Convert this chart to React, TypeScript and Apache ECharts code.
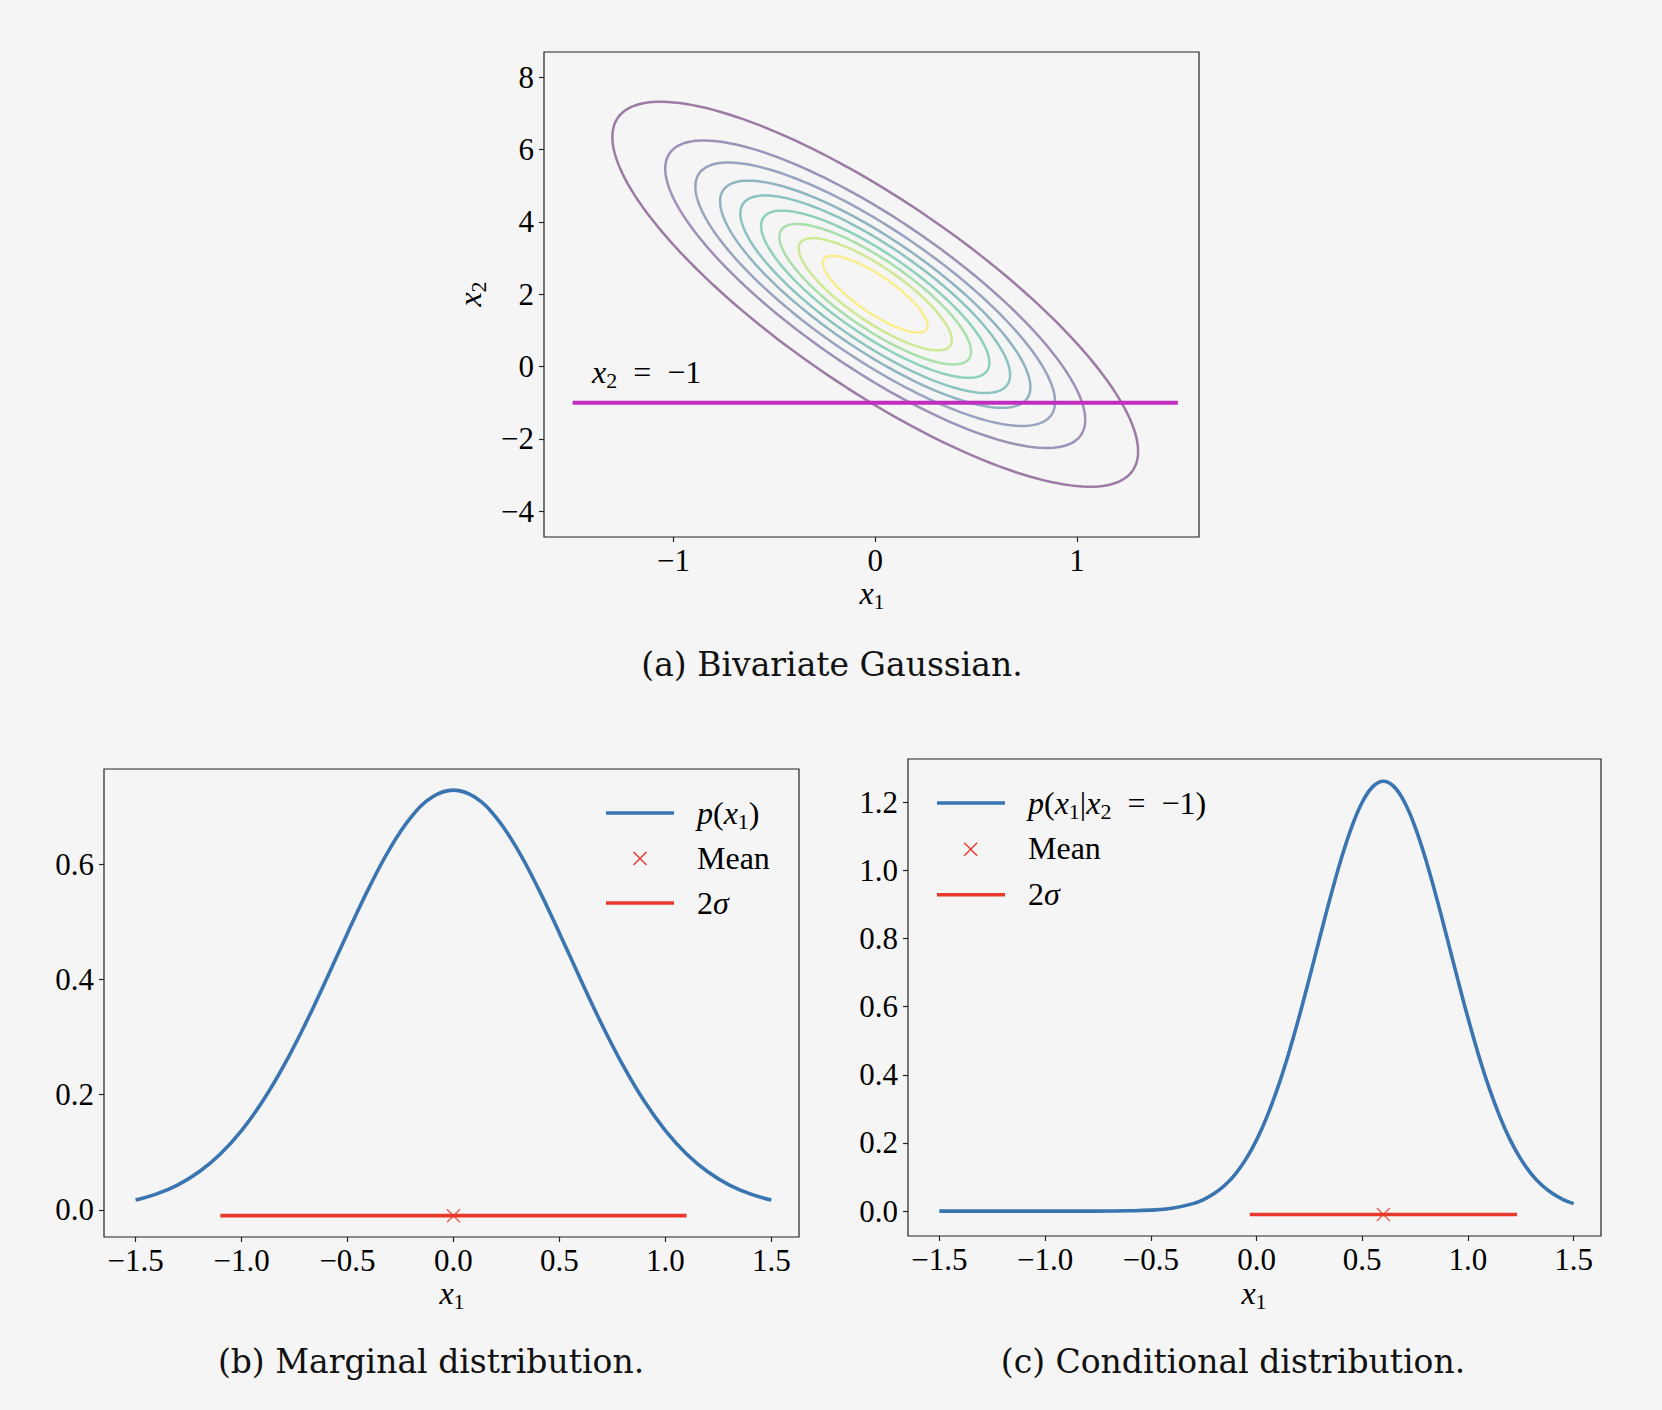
import React, { useEffect, useRef } from 'react';
import * as echarts from 'echarts';

// ---------- (a) Bivariate Gaussian ----------
const gaussMean = [0, 2];
const gaussCov = [
  [0.3, -1.0],
  [-1.0, 5.0],
];
// top (max x2) of each contour
const contourTopX2 = [7.32, 6.25, 5.64, 5.14, 4.73, 4.31, 3.94, 3.55, 3.06];
const contourColors = ['#440154', '#472c7a', '#3b528b', '#2c728e', '#21918c', '#27ad81', '#5ec962', '#aadc32', '#fde725'];
const sliceX2 = -1;
const sliceFrom = -1.5;
const sliceTo = 1.5;
const aXTicks = [-1, 0, 1];
const aYTicks = [-4, -2, 0, 2, 4, 6, 8];

// ---------- (b) Marginal ----------
const margX = [-1.5, -1.4, -1.3, -1.2, -1.1, -1.0, -0.9, -0.8, -0.7, -0.6, -0.5, -0.4, -0.3, -0.2, -0.1, 0.0,
  0.1, 0.2, 0.3, 0.4, 0.5, 0.6, 0.7, 0.8, 0.9, 1.0, 1.1, 1.2, 1.3, 1.4, 1.5];
const margY = [0.0171, 0.0278, 0.0435, 0.0661, 0.097, 0.1376, 0.1888, 0.2507, 0.3219, 0.3998, 0.4802, 0.5579, 0.6269, 0.6814, 0.7164, 0.7284,
  0.7164, 0.6814, 0.6269, 0.5579, 0.4802, 0.3998, 0.3219, 0.2507, 0.1888, 0.1376, 0.097, 0.0661, 0.0435, 0.0278, 0.0171];
const margMean = 0.0;
const margSigmaSpan = [-1.1, 1.1];
const bXTicks = [-1.5, -1.0, -0.5, 0.0, 0.5, 1.0, 1.5];
const bYTicks = [0.0, 0.2, 0.4, 0.6];

// ---------- (c) Conditional ----------
const condX = [-1.5, -1.4, -1.3, -1.2, -1.1, -1.0, -0.9, -0.8, -0.7, -0.6, -0.5, -0.4, -0.3, -0.25, -0.2, -0.15, -0.1, -0.05,
  0.0, 0.05, 0.1, 0.15, 0.2, 0.25, 0.3, 0.35, 0.4, 0.45, 0.5, 0.55, 0.6, 0.65, 0.7, 0.75, 0.8, 0.85, 0.9, 0.95,
  1.0, 1.05, 1.1, 1.15, 1.2, 1.25, 1.3, 1.35, 1.4, 1.45, 1.5];
const condY = [0, 0, 0, 0, 0, 0, 0.00002, 0.00007, 0.00027, 0.00094, 0.003, 0.0085, 0.022, 0.034, 0.0514, 0.0758, 0.1089, 0.1525,
  0.2085, 0.2781, 0.3615, 0.4584, 0.5669, 0.6838, 0.8044, 0.923, 1.0329, 1.1274, 1.2001, 1.2459, 1.2616, 1.2459, 1.2001, 1.1274, 1.0329, 0.923, 0.8044, 0.6838,
  0.5669, 0.4584, 0.3615, 0.2781, 0.2085, 0.1525, 0.1089, 0.0758, 0.0514, 0.034, 0.022];
const condMean = 0.6;
const condSigmaSpan = [-0.032, 1.232];
const cXTicks = [-1.5, -1.0, -0.5, 0.0, 0.5, 1.0, 1.5];
const cYTicks = [0.0, 0.2, 0.4, 0.6, 0.8, 1.0, 1.2];
const markerY = -0.01;

const BG = '#f5f5f5';
const BLUE = '#3a74b1';
const RED = '#e8392c';
const MAGENTA = '#c02ec0';
const AXIS = '#222';
const TICK_FONT = 'Liberation Serif';
const CAP_FONT = 'DejaVu Serif';

function ellipsePoints(topX2: number) {
  const l11 = Math.sqrt(gaussCov[0][0]);
  const l21 = gaussCov[1][0] / l11;
  const l22 = Math.sqrt(gaussCov[1][1] - l21 * l21);
  const r = (topX2 - gaussMean[1]) / Math.sqrt(gaussCov[1][1]);
  const pts: number[][] = [];
  const n = 180;
  for (let k = 0; k <= n; k++) {
    const t = (2 * Math.PI * k) / n;
    pts.push([gaussMean[0] + r * l11 * Math.cos(t), gaussMean[1] + r * (l21 * Math.cos(t) + l22 * Math.sin(t))]);
  }
  return pts;
}

const zip = (xs: number[], ys: number[]) => xs.map((x, i) => [x, ys[i]]);
const fmt = (d: number) => (v: number) => (v < 0 ? '\u2212' : '') + Math.abs(v).toFixed(d);

const mathRich = {
  i: { fontFamily: TICK_FONT, fontStyle: 'italic', fontSize: 32, lineHeight: 26, color: '#000' },
  r: { fontFamily: TICK_FONT, fontSize: 32, lineHeight: 26, color: '#000' },
  s: { fontFamily: TICK_FONT, fontSize: 22, lineHeight: 10, color: '#000', padding: [17, 0, 0, 0] },
};

function axisPair(gridIndex: number, xr: number[], yr: number[], xt: number[], yt: number[], xd: number, yd: number) {
  const common = {
    type: 'value',
    gridIndex,
    axisLine: { show: false, onZero: false },
    splitLine: { show: false },
  };
  const tickStyle = { color: AXIS, width: 1.2 };
  const labelStyle = { fontFamily: TICK_FONT, fontSize: 31, lineHeight: 26, color: '#000' };
  return {
    x: {
      ...common,
      min: xr[0],
      max: xr[1],
      axisTick: { show: true, inside: false, length: 5, customValues: xt, lineStyle: tickStyle },
      axisLabel: { ...labelStyle, customValues: xt, formatter: fmt(xd), margin: 10 },
    },
    y: {
      ...common,
      min: yr[0],
      max: yr[1],
      axisTick: { show: true, inside: false, length: 5, customValues: yt, lineStyle: tickStyle },
      axisLabel: { ...labelStyle, customValues: yt, formatter: fmt(yd), margin: 10 },
    },
  };
}

function mathText(x: number, y: number, text: string, align = 'center', rotation = 0) {
  return {
    type: 'text',
    x,
    y,
    rotation,
    style: { text, rich: mathRich, align, verticalAlign: 'middle' },
  };
}

function capText(x: number, y: number, text: string) {
  return {
    type: 'text',
    x,
    y,
    style: { text, fontFamily: CAP_FONT, fontSize: 33, fill: '#111', align: 'center', verticalAlign: 'middle' },
  };
}

function legendLine(x1: number, x2: number, y: number, color: string) {
  return { type: 'line', shape: { x1, y1: y, x2, y2: y }, style: { stroke: color, lineWidth: 3.5 } };
}

function legendCross(cx: number, cy: number) {
  const h = 6.5;
  return [
    { type: 'line', shape: { x1: cx - h, y1: cy - h, x2: cx + h, y2: cy + h }, style: { stroke: RED, lineWidth: 1.4 } },
    { type: 'line', shape: { x1: cx - h, y1: cy + h, x2: cx + h, y2: cy - h }, style: { stroke: RED, lineWidth: 1.4 } },
  ];
}

const CROSS = 'path://M0 0L10 10M10 0L0 10';

export default function App() {
  const ref = useRef<HTMLDivElement>(null);
  useEffect(() => {
    if (!ref.current) return;
    const chart = echarts.init(ref.current, undefined, { renderer: 'svg' });
    const a = axisPair(0, [-1.642, 1.605], [-4.71, 8.695], aXTicks, aYTicks, 0, 0);
    const b = axisPair(1, [-1.649, 1.6305], [-0.047, 0.765], bXTicks, bYTicks, 1, 1);
    const c = axisPair(2, [-1.648, 1.629], [-0.073, 1.327], cXTicks, cYTicks, 1, 1);
    const gridStyle = { show: true, borderColor: AXIS, borderWidth: 1.2, backgroundColor: 'transparent' };

    const contourSeries = contourTopX2.map((top, k) => ({
      type: 'line',
      name: 'contour ' + (k + 1),
      xAxisIndex: 0,
      yAxisIndex: 0,
      data: ellipsePoints(top),
      showSymbol: false,
      smooth: false,
      silent: true,
      lineStyle: { color: contourColors[k], width: 2.5, opacity: 0.5 },
      z: 2,
    }));

    const option: any = {
      backgroundColor: BG,
      animation: false,
      grid: [
        { left: 544, top: 52, width: 655, height: 485, ...gridStyle },
        { left: 104, top: 769, width: 695, height: 468, ...gridStyle },
        { left: 908, top: 759, width: 693, height: 477, ...gridStyle },
      ],
      xAxis: [a.x, b.x, c.x],
      yAxis: [a.y, b.y, c.y],
      series: [
        ...contourSeries,
        {
          type: 'line',
          name: 'x2 = -1',
          xAxisIndex: 0,
          yAxisIndex: 0,
          data: [[sliceFrom, sliceX2], [sliceTo, sliceX2]],
          showSymbol: false,
          silent: true,
          lineStyle: { color: MAGENTA, width: 4 },
          z: 3,
        },
        {
          type: 'line',
          name: 'p(x1)',
          xAxisIndex: 1,
          yAxisIndex: 1,
          data: zip(margX, margY),
          showSymbol: false,
          smooth: 0.4,
          silent: true,
          lineStyle: { color: BLUE, width: 3.6 },
        },
        {
          type: 'line',
          name: '2σ',
          xAxisIndex: 1,
          yAxisIndex: 1,
          data: [[margSigmaSpan[0], markerY], [margSigmaSpan[1], markerY]],
          showSymbol: false,
          silent: true,
          lineStyle: { color: RED, width: 3.6 },
        },
        {
          type: 'scatter',
          name: 'Mean',
          xAxisIndex: 1,
          yAxisIndex: 1,
          data: [[margMean, markerY]],
          symbol: CROSS,
          symbolSize: 13,
          silent: true,
          itemStyle: { color: 'rgba(0,0,0,0)', borderColor: RED, borderWidth: 1.4 },
          z: 5,
        },
        {
          type: 'line',
          name: 'p(x1|x2=-1)',
          xAxisIndex: 2,
          yAxisIndex: 2,
          data: zip(condX, condY),
          showSymbol: false,
          smooth: 0.4,
          silent: true,
          lineStyle: { color: BLUE, width: 3.6 },
        },
        {
          type: 'line',
          name: '2σ ',
          xAxisIndex: 2,
          yAxisIndex: 2,
          data: [[condSigmaSpan[0], markerY], [condSigmaSpan[1], markerY]],
          showSymbol: false,
          silent: true,
          lineStyle: { color: RED, width: 3.6 },
        },
        {
          type: 'scatter',
          name: 'Mean ',
          xAxisIndex: 2,
          yAxisIndex: 2,
          data: [[condMean, markerY]],
          symbol: CROSS,
          symbolSize: 13,
          silent: true,
          itemStyle: { color: 'rgba(0,0,0,0)', borderColor: RED, borderWidth: 1.4 },
          z: 5,
        },
      ],
      graphic: [
        // axis titles
        mathText(872, 593, '{i|x}{s|1}'),
        mathText(470, 294, '{i|x}{s|2}', 'center', Math.PI / 2),
        mathText(452, 1293, '{i|x}{s|1}'),
        mathText(1254, 1293, '{i|x}{s|1}'),
        // annotation
        mathText(592, 372, '{i|x}{s|2}{r|  =  \u22121}', 'left'),
        // legend (b)
        legendLine(606, 674, 813, BLUE),
        mathText(697, 813, '{i|p}{r|(}{i|x}{s|1}{r|)}', 'left'),
        ...legendCross(640, 858.6),
        mathText(697, 858, '{r|Mean}', 'left'),
        legendLine(606, 674, 903, RED),
        mathText(697, 903, '{r|2}{i|\u03c3}', 'left'),
        // legend (c)
        legendLine(937, 1005, 803, BLUE),
        mathText(1028, 803, '{i|p}{r|(}{i|x}{s|1}{r||}{i|x}{s|2}{r|  =  \u22121)}', 'left'),
        ...legendCross(970.7, 849.3),
        mathText(1028, 848, '{r|Mean}', 'left'),
        legendLine(937, 1005, 894.7, RED),
        mathText(1028, 894, '{r|2}{i|\u03c3}', 'left'),
        // captions
        capText(832, 664, '(a) Bivariate Gaussian.'),
        capText(431, 1361, '(b) Marginal distribution.'),
        capText(1233, 1361, '(c) Conditional distribution.'),
      ],
    };
    chart.setOption(option);
    return () => chart.dispose();
  }, []);
  return <div ref={ref} style={{ position: 'absolute', left: 0, top: 0, width: 1662, height: 1410 }} />;
}
